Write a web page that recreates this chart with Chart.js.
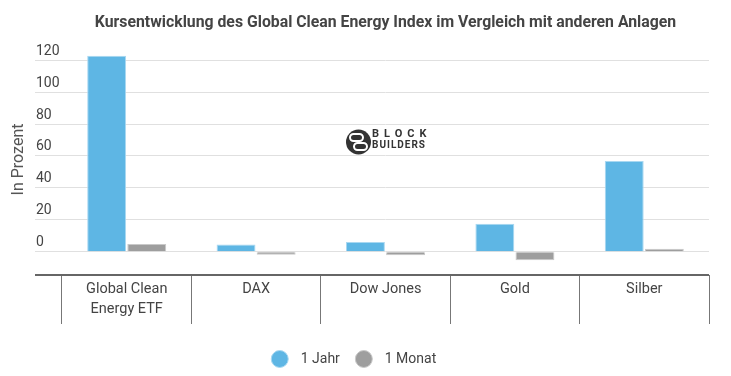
<!DOCTYPE html>
<html>
<head>
<meta charset="utf-8">
<script src="https://cdn.jsdelivr.net/npm/chart.js@4"></script>
<style>
    html, body { margin: 0; padding: 0; background: #fff; }
    #wrap { width: 731px; height: 376px; }
</style>
</head>
<body>
<div id="wrap"><canvas id="chart"></canvas></div>
<script>
// Werte (in Prozent)
const categories = [['Global Clean', 'Energy ETF'], 'DAX', 'Dow Jones', 'Gold', 'Silber'];
const einJahr = [122.7, 4.6, 6.1, 17.5, 56.8];
const einMonat = [4.9, -1.9, -2.1, -5.3, 1.9];
const yTicks = [0, 20, 40, 60, 80, 100, 120];
const yMin = -14.5;
const yMax = 130.1;

Chart.defaults.font.family = 'Roboto';
Chart.defaults.color = '#444';

// Logo in the middle of the plot
const watermark = {
    id: 'watermark',
    beforeDatasetsDraw(chart) {
        const ctx = chart.ctx;
        ctx.save();
        ctx.fillStyle = '#333';
        ctx.beginPath();
        ctx.arc(358.5, 142, 12.5, 0, Math.PI * 2);
        ctx.fill();
        ctx.strokeStyle = '#fff';
        ctx.lineWidth = 2;
        ctx.beginPath();
        ctx.roundRect(350, 134, 13, 7, 3.5);
        ctx.roundRect(354, 143, 13, 7, 3.5);
        ctx.stroke();
        ctx.fillStyle = '#333';
        ctx.textBaseline = 'middle';
        ctx.font = 'bold 11px Roboto';
        ctx.letterSpacing = '5px';
        ctx.fillText('BLOCK', 372, 134);
        ctx.font = 'bold 10px Roboto';
        ctx.letterSpacing = '1px';
        ctx.fillText('BUILDERS', 372, 145);
        ctx.restore();
    }
};

new Chart(document.getElementById('chart'), {
    type: 'bar',
    data: {
        labels: categories,
        datasets: [{
            label: '1 Jahr',
            data: einJahr,
            backgroundColor: '#5eb6e4',
            borderColor: '#a9d8f1',
            borderWidth: 1
        }, {
            label: '1 Monat',
            data: einMonat,
            backgroundColor: '#9e9e9e',
            borderColor: '#c9c9c9',
            borderWidth: 1
        }]
    },
    options: {
        responsive: true,
        maintainAspectRatio: false,
        animation: false,
        devicePixelRatio: 1,
        categoryPercentage: 0.62,
        barPercentage: 0.97,
        layout: { padding: { left: 0, right: 22, top: 0, bottom: 0 } },
        plugins: {
            title: {
                display: true,
                fullSize: false,
                text: 'Kursentwicklung des Global Clean Energy Index im Vergleich mit anderen Anlagen',
                color: '#444',
                font: { size: 15.8, weight: 'bold' },
                padding: { top: 14, bottom: 11 }
            },
            legend: {
                position: 'bottom',
                labels: {
                    usePointStyle: true,
                    pointStyle: 'circle',
                    boxWidth: 14,
                    boxHeight: 12,
                    padding: 17,
                    color: '#444',
                    font: { size: 14 },
                    // a bit more room between the dot and its text
                    generateLabels: chart => Chart.defaults.plugins.legend.labels.generateLabels(chart)
                        .map(item => Object.assign(item, { text: '  ' + item.text }))
                }
            },
            tooltip: { enabled: false }
        },
        scales: {
            x: {
                grid: {
                    offset: true,
                    drawOnChartArea: false,
                    tickLength: 49,
                    color: '#777'
                },
                border: { display: false },
                ticks: {
                    padding: -45,
                    color: '#444',
                    font: { size: 14.5, lineHeight: 1.4 }
                },
                afterFit(scale) { scale.height = 60; }
            },
            y: {
                min: yMin,
                max: yMax,
                weight: 0,
                afterBuildTicks(scale) {
                    scale.ticks = [yMin].concat(yTicks).map(v => ({ value: v }));
                },
                afterFit(scale) { scale.width = 26; },
                grid: {
                    color: c => (c.tick && c.tick.value === yMin) ? '#666' : '#e0e0e0',
                    lineWidth: c => (c.tick && c.tick.value === yMin) ? 2 : 1,
                    tickLength: 27
                },
                border: { display: false },
                ticks: {
                    crossAlign: 'far',
                    labelOffset: -9,
                    color: '#444',
                    font: { size: 14 },
                    callback: v => yTicks.includes(v) ? String(v) : ''
                }
            },
            yTitle: {
                type: 'linear',
                position: 'left',
                weight: 1,
                grid: { display: false },
                border: { display: false },
                ticks: { display: false },
                afterFit(scale) { scale.width = 36; },
                title: {
                    display: true,
                    text: 'In Prozent',
                    color: '#555',
                    font: { size: 16 },
                    padding: { top: 9, bottom: 0 }
                }
            }
        }
    },
    plugins: [watermark]
});
</script>
</body>
</html>
